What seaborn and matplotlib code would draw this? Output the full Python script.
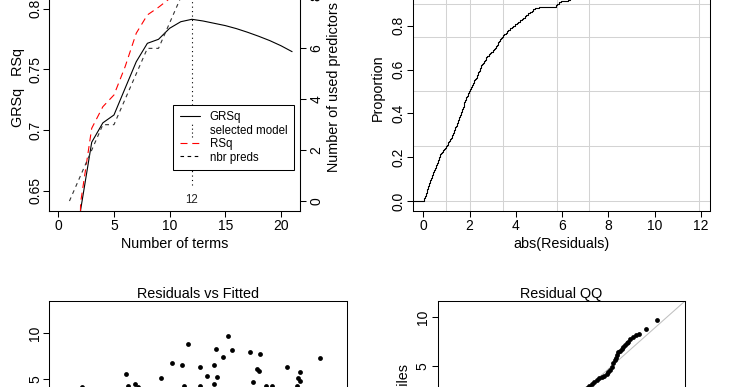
import numpy as np
import matplotlib
matplotlib.use("Agg")
import matplotlib.pyplot as plt
import seaborn as sns
from matplotlib.lines import Line2D
from matplotlib.legend_handler import HandlerBase
import matplotlib.transforms as mtrans

# ---------------- data ----------------
n_terms = list(range(1, 22))
grsq = [0.0, 0.634, 0.690, 0.706, 0.7125, 0.7345, 0.7564, 0.7716, 0.7749, 0.784, 0.7894,
        0.7914, 0.7900, 0.7881, 0.7862, 0.7837, 0.7807, 0.7774, 0.7738, 0.7696, 0.7647]
rsq = [0.0, 0.640, 0.7015, 0.7193, 0.729, 0.7523, 0.7799, 0.795, 0.8013, 0.8085, 0.815,
       0.820, 0.8235, 0.8265, 0.829, 0.8315, 0.834, 0.836, 0.838, 0.8395, 0.841]
nbr_preds = [0, 1, 2, 3, 3, 4, 5, 6, 6, 7, 8, 8, 9, 9, 9, 9, 9, 9, 9, 9, 9]
selected_terms = 12

abs_resid = [0.01, 0.03, 0.06,
             0.08, 0.10, 0.12, 0.14, 0.16, 0.18, 0.19, 0.21, 0.23, 0.25, 0.27, 0.28,
             0.31, 0.33, 0.36, 0.38, 0.41, 0.43, 0.46, 0.48,
             0.50, 0.53, 0.55, 0.57, 0.59, 0.62, 0.64, 0.66, 0.68, 0.71,
             0.74, 0.78, 0.82, 0.86, 0.90, 0.94, 0.98,
             1.01, 1.05, 1.08, 1.12, 1.15, 1.19, 1.22,
             1.25, 1.27, 1.29, 1.32, 1.34, 1.37, 1.39, 1.42,
             1.44, 1.46, 1.49, 1.51, 1.53, 1.55, 1.58, 1.60, 1.62, 1.65,
             1.66, 1.68, 1.70, 1.72, 1.74, 1.76, 1.78, 1.80, 1.82, 1.84, 1.86,
             1.89, 1.92, 1.95, 1.98, 2.01, 2.04, 2.07,
             2.09, 2.12, 2.15, 2.18, 2.21, 2.24, 2.27, 2.30,
             2.33, 2.35, 2.38, 2.40, 2.43, 2.45, 2.48, 2.50,
             2.54, 2.58, 2.61, 2.65, 2.69, 2.73, 2.77,
             2.82, 2.88, 2.94, 3.00, 3.06,
             3.11, 3.14, 3.18, 3.21, 3.25, 3.28,
             3.32, 3.37, 3.41, 3.46, 3.51, 3.56,
             3.61, 3.68, 3.75, 3.82, 3.90, 3.97,
             4.04, 4.11, 4.18, 4.25, 4.32, 4.39,
             4.46, 4.54, 4.61, 4.68, 4.75,
             4.83, 5.00,
             5.75, 5.80, 5.88, 5.96, 6.25,
             6.34, 6.55, 6.55, 6.80, 7.31, 7.42, 7.78, 7.97, 8.18, 8.29, 8.84, 9.71, 11.91]
grid_probs = [0.0, 0.25, 0.5, 0.75, 0.9, 0.95, 1.0]
quant_vals = [0.98, 2.03, 3.45, 5.78, 7.16, 11.91]

fitted = [24.03, 18.58, 22.34, 24.56, 26.94, 28.28, 36.30, 23.32, 16.43, 17.81, 22.07,
          20.19, 31.95, 27.92, 28.19, 33.69, 10.26, 21.21, 22.51, 15.03, 33.38, 33.61,
          27.30, 11.50, 10.52, 4.35, 18.12, 20.27, 22.11, 29.05, 29.89, 33.25, 11.87]
resid = [9.71, 8.84, 8.29, 8.18, 7.97, 7.78, 7.31, 7.42, 6.80, 6.55, 6.55,
         6.34, 6.34, 6.12, 5.90, 5.83, 5.58, 5.36, 5.25, 5.14, 5.14, 4.85,
         4.71, 4.47, 4.27, 4.14, 4.30, 4.30, 4.45, 4.22, 4.27, 4.23, 4.20]

qq_theor = [2.305, 2.03, 1.87, 1.79, 1.71, 1.65, 1.61, 1.57, 1.53, 1.49, 1.45, 1.41, 1.37,
            1.34, 1.31, 1.28, 1.25, 1.21, 1.17, 1.13, 1.09, 1.03, 0.97, 0.91, 0.85, 0.79,
            0.73, 0.67, 0.62, 0.57, 0.52]
qq_sample = [9.72, 8.81, 8.30, 8.16, 7.96, 7.79, 7.51, 7.35, 7.17, 6.94, 6.77, 6.56, 6.43,
             6.15, 5.88, 5.61, 5.31, 4.96, 4.62, 4.39, 4.18, 4.04, 3.91, 3.78, 3.60, 3.43,
             3.19, 2.99, 2.82, 2.65, 2.50]
qq_intercept = 0.456
qq_slope = 3.77

# ---------------- style ----------------
sns.set_style("ticks")
plt.rcParams.update({
    'font.family': ['Liberation Sans', 'DejaVu Sans'],
    'axes.linewidth': 0.75,
    'axes.edgecolor': 'black',
    'xtick.color': 'black', 'ytick.color': 'black',
    'text.color': 'black', 'axes.labelcolor': 'black',
    'xtick.labelsize': 10, 'ytick.labelsize': 10,
    'axes.labelsize': 10.4, 'axes.titlesize': 10.4,
    'xtick.major.size': 4.5, 'ytick.major.size': 4.5,
    'xtick.major.width': 0.75, 'ytick.major.width': 0.75,
    'xtick.major.pad': 1.5, 'ytick.major.pad': 0.5,
    'xtick.direction': 'out', 'ytick.direction': 'out',
})

W, H = 737, 387
fig = plt.figure(figsize=(7.37, 3.87), dpi=100)


def rect(l, t, w, h):
    return [l / W, 1 - (t + h) / H, w / W, h / H]


def rot_yticks(ax, ticks, labels):
    ax.set_yticks(ticks)
    ax.set_yticklabels(labels, rotation=90, va='center')


# ---------- top-left: model selection ----------
ax1 = fig.add_axes(rect(49.3, -36, 250.7, 247))
ax1b = ax1.twinx()
sns.lineplot(x=n_terms, y=grsq, ax=ax1, color='black', linewidth=0.8,
             estimator=None, legend=False)
sns.lineplot(x=n_terms, y=rsq, ax=ax1, color='red', linewidth=0.8,
             linestyle=(0, (6.3, 4.3)), estimator=None, legend=False)
sns.lineplot(x=n_terms, y=nbr_preds, ax=ax1b, color='#333333', linewidth=0.8,
             linestyle=(0, (3.5, 3.5)), estimator=None, legend=False)
ax1.set_xlim(-0.81, 21.71)
ax1.set_ylim(0.6333, 0.837)
ax1b.set_ylim(-0.393, 9.316)
ax1.set_xticks([0, 5, 10, 15, 20])
rot_yticks(ax1, [0.65, 0.7, 0.75, 0.8], ['0.65', '0.7', '0.75', '0.8'])
rot_yticks(ax1b, [0, 2, 4, 6, 8], ['0', '2', '4', '6', '8'])
ax1b.tick_params(axis='y', pad=2.2)
ax1.axvline(selected_terms, ymin=0.105, ymax=1, color='black', linewidth=0.8,
            linestyle=(0, (1, 3)))
ax1.text(selected_terms, 0.0445, str(selected_terms),
         transform=mtrans.blended_transform_factory(ax1.transData, ax1.transAxes),
         ha='center', va='center', fontsize=8.3, color='#222222')
ax1.set_xlabel('Number of terms')
ax1.set_ylabel('GRSq   RSq')
ax1.xaxis.set_label_coords(0.5, -0.1065)
ax1.yaxis.set_label_coords(-0.098, 0.5)
ax1b.set_ylabel('Number of used predictors', rotation=90, va='top')
ax1b.yaxis.set_label_coords(1.108, 0.5)
for s in ax1b.spines.values():
    s.set_visible(True)


class VDotHandler(HandlerBase):
    def create_artists(self, legend, orig_handle, xdescent, ydescent, width,
                       height, fontsize, trans):
        x = width * 0.6 - xdescent
        ln = Line2D([x, x], [-ydescent - 0.35 * height, 1.35 * height - ydescent],
                    color='black', linewidth=0.8, linestyle=(0, (1, 2.5)),
                    transform=trans)
        return [ln]


h_grsq = Line2D([], [], color='black', linewidth=0.8)
h_sel = Line2D([], [], color='black')
h_rsq = Line2D([], [], color='red', linewidth=0.8, linestyle=(0, (6.3, 4.3)))
h_np = Line2D([], [], color='black', linewidth=0.8, linestyle=(0, (3.2, 3.2)))
leg = ax1b.legend([h_grsq, h_sel, h_rsq, h_np],
                  ['GRSq', 'selected model', 'RSq', 'nbr preds'],
                  handler_map={h_sel: VDotHandler()},
                  loc='upper left', bbox_to_anchor=(0.4946, 0.4291),
                  borderaxespad=0, fontsize=8.3, handlelength=1.74,
                  handletextpad=0.87, labelspacing=0.12, borderpad=0.55,
                  fancybox=False, framealpha=1, edgecolor='black')
leg.get_frame().set_linewidth(0.75)

# ---------- top-right: cumulative distribution ----------
ax2 = fig.add_axes(rect(412.7, -36, 297.3, 247))
ax2.set_xlim(-0.46, 12.40)
ax2.set_ylim(-0.0456, 1.0817)
for p in grid_probs:
    ax2.axhline(p, color='#d3d3d3', linewidth=0.75, zorder=0)
for q in quant_vals:
    ax2.axvline(q, color='#d3d3d3', linewidth=0.75, zorder=0)
sns.ecdfplot(x=abs_resid, ax=ax2, color='black', linewidth=0.8)
ax2.plot([ax2.get_xlim()[0], min(abs_resid)], [0, 0], color='black', linewidth=0.8)
ax2.set_xlim(-0.46, 12.40)
ax2.set_ylim(-0.0456, 1.0817)
ax2.set_xticks([0, 2, 4, 6, 8, 10, 12])
rot_yticks(ax2, [0, 0.2, 0.4, 0.6, 0.8, 1.0], ['0.0', '0.2', '0.4', '0.6', '0.8', '1.0'])
ax2.set_xlabel('abs(Residuals)')
ax2.set_ylabel('Proportion')
ax2.xaxis.set_label_coords(0.5, -0.1065)
ax2.yaxis.set_label_coords(-0.093, 0.5)

# ---------- bottom-left: residuals vs fitted ----------
ax3 = fig.add_axes(rect(49.3, 300.7, 298, 247))
sns.scatterplot(x=fitted, y=resid, ax=ax3, color='black', s=12, linewidth=0,
                legend=False)
ax3.set_xlim(0, 40)
ax3.set_ylim(-13.31, 13.54)
rot_yticks(ax3, [-10, -5, 0, 5, 10], ['-10', '-5', '0', '5', '10'])
ax3.set_title('Residuals vs Fitted', pad=1.5)
ax3.set_ylabel('Residuals')
ax3.set_xlabel('Fitted')
ax3.yaxis.set_label_coords(-0.085, 0.5)

# ---------- bottom-right: residual QQ ----------
ax4 = fig.add_axes(rect(437.7, 300.7, 247.3, 247))
ax4.axline((0, qq_intercept), slope=qq_slope, color='#c0c0c0', linewidth=0.75, zorder=1)
sns.scatterplot(x=qq_theor, y=qq_sample, ax=ax4, color='black', s=12, linewidth=0,
                legend=False, zorder=2)
ax4.set_xlim(-2.97, 2.97)
ax4.set_ylim(-13.51, 11.69)
rot_yticks(ax4, [-10, -5, 0, 5, 10], ['-10', '-5', '0', '5', '10'])
ax4.tick_params(axis='y', pad=1.2)
ax4.set_title('Residual QQ', pad=1.5)
ax4.set_ylabel('Residual Quantiles')
ax4.set_xlabel('Normal Quantiles')
ax4.yaxis.set_label_coords(-0.108, 0.5)

fig.savefig('out.png', dpi=100)
